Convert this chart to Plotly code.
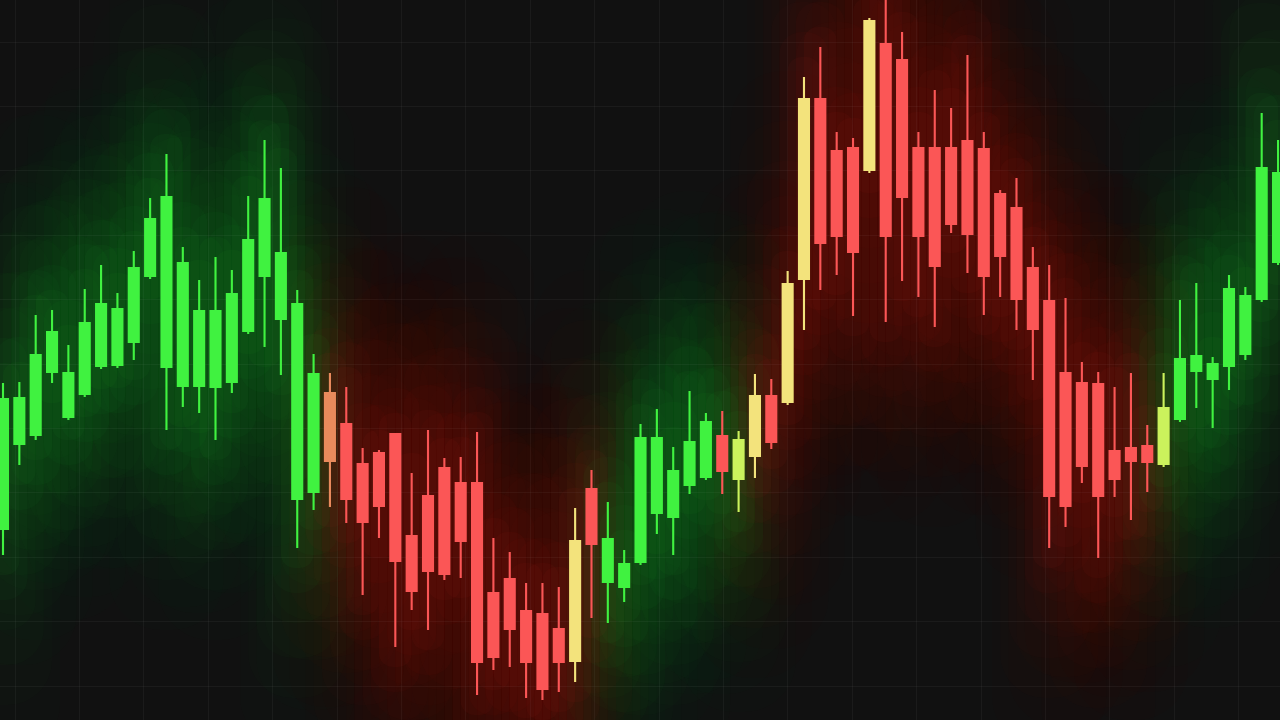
import plotly.graph_objects as go

# ---- data (price units; higher = up) ----
body_top = [322, 323, 366, 389, 348, 398, 417, 412, 453, 502, 524, 458, 410, 410, 427, 481, 522, 468, 417, 347,
            328, 297, 257, 268, 287, 185, 225, 253, 238, 238, 128, 142, 110, 107, 92, 180, 232, 182, 157, 283,
            283, 250, 279, 299, 285, 281, 325, 325, 437, 622, 622, 570, 573, 700, 677, 661, 573, 573, 573, 580,
            572, 527, 513, 453, 420, 348, 338, 337, 270, 273, 275, 313, 362, 365, 357, 432, 425, 553, 548]
body_bot = [190, 275, 284, 347, 302, 325, 353, 354, 377, 443, 352, 333, 333, 332, 337, 388, 443, 400, 220, 227,
            258, 220, 197, 213, 158, 128, 148, 145, 178, 57, 62, 90, 57, 30, 57, 58, 175, 137, 132, 157,
            206, 202, 234, 242, 248, 240, 263, 277, 317, 440, 476, 483, 467, 549, 483, 522, 483, 453, 495, 485,
            443, 463, 420, 390, 223, 213, 253, 223, 240, 258, 257, 255, 300, 348, 340, 353, 365, 420, 457]
high = [337, 338, 405, 410, 375, 431, 455, 427, 469, 522, 566, 473, 440, 463, 450, 524, 580, 552, 430, 366,
        347, 333, 272, 270, 287, 247, 290, 262, 263, 288, 182, 168, 137, 137, 133, 212, 250, 218, 170, 296,
        311, 273, 329, 307, 309, 289, 346, 341, 449, 643, 673, 588, 582, 702, 720, 688, 588, 630, 612, 665,
        588, 530, 542, 473, 455, 422, 358, 348, 333, 347, 295, 347, 420, 437, 363, 445, 433, 607, 580]
low = [165, 255, 280, 337, 300, 323, 351, 352, 360, 441, 290, 313, 307, 280, 327, 386, 373, 345, 172, 210,
       213, 197, 125, 182, 73, 110, 90, 140, 142, 25, 50, 53, 22, 20, 28, 38, 102, 97, 118, 155,
       186, 165, 226, 240, 226, 208, 242, 271, 315, 390, 430, 445, 404, 547, 398, 439, 423, 393, 487, 447,
       405, 423, 390, 340, 172, 193, 237, 162, 223, 200, 228, 253, 298, 312, 292, 330, 360, 418, 455]
colors = (["G"] * 20 + ["O"] + ["R"] * 14 + ["Y", "R"] + ["G"] * 7 + ["R", "YG", "Y", "R", "Y", "Y", "R", "R", "R", "Y"]
          + ["R"] * 17 + ["YG"] + ["G"] * 7)
glow_keys = ["G"] * 20 + ["R"] * 17 + ["G"] * 9 + ["R"] * 25 + ["G"] * 8

palette = {"G": "#40f240", "R": "#fb5656", "Y": "#f3e37c", "YG": "#cbf25c", "O": "#e98a5c"}
glow_rgb = {"G": (35, 185, 45), "R": (190, 32, 30)}

n = len(high)
idx = list(range(n))

fig = go.Figure()

# soft glow: stacked translucent rounded bars around each candle
glow_layers = [(200, 7.0, 0.012), (150, 6.0, 0.015), (110, 5.0, 0.02), (75, 4.0, 0.025),
               (45, 3.0, 0.035), (20, 2.0, 0.05)]
for pad, w, alpha in glow_layers:
    fig.add_trace(go.Bar(
        x=idx, base=[l - pad for l in low], y=[h - l + 2 * pad for h, l in zip(high, low)],
        width=w,
        marker=dict(color=[f"rgba({glow_rgb[k][0]},{glow_rgb[k][1]},{glow_rgb[k][2]},{alpha})" for k in glow_keys],
                    line=dict(width=0), cornerradius=int(w * 16.35 * 0.45)),
        hoverinfo="skip", showlegend=False))

cols = [palette[k] for k in colors]
# wicks
fig.add_trace(go.Bar(
    x=idx, base=low, y=[h - l for h, l in zip(high, low)], width=0.13,
    marker=dict(color=cols, line=dict(width=0)), hoverinfo="skip", showlegend=False))
# bodies
fig.add_trace(go.Bar(
    x=idx, base=body_bot, y=[t - b for t, b in zip(body_top, body_bot)], width=0.74,
    marker=dict(color=cols, line=dict(width=0)), hoverinfo="skip", showlegend=False))

grid = "rgba(255,255,255,0.045)"
fig.update_layout(
    width=1280, height=720, margin=dict(l=0, r=0, t=0, b=0),
    paper_bgcolor="#111111", plot_bgcolor="#111111", showlegend=False, barmode="overlay",
    xaxis=dict(range=[-0.1835, 78.12], showticklabels=False, zeroline=False,
               showgrid=True, gridcolor=grid, gridwidth=1, tick0=0.734, dtick=3.94, fixedrange=True),
    yaxis=dict(range=[0, 720], showticklabels=False, zeroline=False,
               showgrid=True, gridcolor=grid, gridwidth=1, tick0=34, dtick=64.4, fixedrange=True),
)
fig.write_html("out.html", config={"displayModeBar": False},
               post_script="document.body.style.margin='0';document.body.style.background='#111111';")
